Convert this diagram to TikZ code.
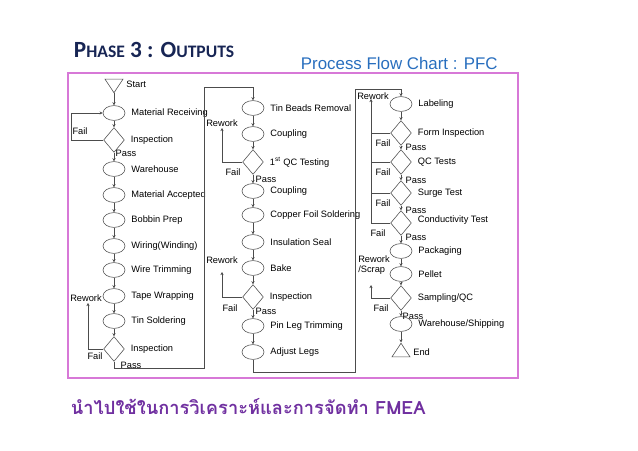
\documentclass[tikz,border=0pt]{standalone}
\usepackage{fontspec}
\setmainfont{Liberation Sans}
\newfontfamily\thaifont[Script=Thai]{Loma}
\newfontfamily\titlefont{Carlito}
\usetikzlibrary{shapes.geometric, arrows.meta, positioning}
\usepackage{xcolor}
\definecolor{navy}{RGB}{23,37,84}
\definecolor{pfcblue}{RGB}{40,110,190}
\definecolor{frame}{RGB}{215,120,215}
\definecolor{thaipurple}{RGB}{112,48,160}

\begin{document}
\begin{tikzpicture}[
    x=0.025cm, y=-0.025cm,
    proc/.style={ellipse, draw=black!70, minimum width=0.55cm, minimum height=0.37cm, inner sep=0pt},
    check/.style={diamond, draw=black!70, minimum width=0.52cm, minimum height=0.62cm, inner sep=0pt},
    term/.style={isosceles triangle, isosceles triangle stretches, draw=black!70, minimum width=0.45cm, minimum height=0.34cm, inner sep=0pt},
    lbl/.style={font=\fontsize{6.6}{7.5}\selectfont, label distance=0.3mm},
    tag/.style={font=\fontsize{6.6}{7.5}\selectfont, inner sep=0pt},
    arr/.style={-{Stealth[length=2.2pt, width=2.2pt]}, black!70, thin},
    line/.style={black!70, thin}
]
\useasboundingbox (0,0) rectangle (638,451);

% titles
\node[anchor=west, navy, font=\titlefont\bfseries\fontsize{16.5}{18}\selectfont] (title) at (69,50)
  {P{\fontsize{12.5}{13}\selectfont HASE} 3 : O{\fontsize{12.5}{13}\selectfont UTPUTS}};
\node[anchor=west, pfcblue, font=\fontsize{12}{13}\selectfont] (pfc) at (296,63) {Process Flow Chart : PFC};
\draw[frame, thick] (68,73) rectangle (518,378);
\node[anchor=west, thaipurple, font=\thaifont\bfseries\fontsize{13}{15}\selectfont] (fmea) at (66,407)
  {นำไปใช้ในการวิเคราะห์และการจัดทำ FMEA};

% left column
\node[term, shape border rotate=270, label={[lbl]right:Start}] (st) at (114,84) {};
\node[proc, label={[lbl]right:Material Receiving}] (mr) at (114,113) {};
\node[check, label={[lbl]right:Inspection}] (in1) at (114,140) {};
\node[proc, label={[lbl]right:Warehouse}] (wh) at (114,169) {};
\node[proc, label={[lbl]right:Material Accepted}] (ma) at (114,195) {};
\node[proc, label={[lbl]right:Bobbin Prep}] (bp) at (114,220) {};
\node[proc, label={[lbl]right:Wiring(Winding)}] (ww) at (114,246) {};
\node[proc, label={[lbl]right:Wire Trimming}] (wt) at (114,270) {};
\node[proc, label={[lbl]right:Tape Wrapping}] (tw) at (114,296) {};
\node[proc, label={[lbl]right:Tin Soldering}] (ts) at (114,321) {};
\node[check, label={[lbl]right:Inspection}] (in2) at (114,349) {};

% middle column
\node[proc, label={[lbl]right:Tin Beads Removal}] (tb) at (253,108) {};
\node[proc, label={[lbl]right:Coupling}] (cp1) at (253,134) {};
\node[check, label={[lbl]right:1\textsuperscript{st} QC Testing}] (qc1) at (253,162) {};
\node[proc, label={[lbl]right:Coupling}] (cp2) at (253,191) {};
\node[proc, label={[lbl]right:Copper Foil Soldering}] (cf) at (253,215) {};
\node[proc, label={[lbl]right:Insulation Seal}] (is) at (253,242) {};
\node[proc, label={[lbl]right:Bake}] (bk) at (253,268) {};
\node[check, label={[lbl]right:Inspection}] (in3) at (253,297) {};
\node[proc, label={[lbl]right:Pin Leg Trimming}] (pl) at (253,326) {};
\node[proc, label={[lbl]right:Adjust Legs}] (al) at (253,352) {};

% right column
\node[proc, label={[lbl]right:Labeling}] (lb) at (401,104) {};
\node[check, label={[lbl]right:Form Inspection}] (fi) at (401,133) {};
\node[check, label={[lbl]right:QC Tests}] (qc) at (401,162) {};
\node[check, label={[lbl]right:Surge Test}] (sg) at (401,193) {};
\node[check, label={[lbl, yshift=2pt]right:Conductivity Test}] (ct) at (401,223) {};
\node[proc, label={[lbl]right:Packaging}] (pk) at (401,251) {};
\node[proc, label={[lbl]right:Pellet}] (pe) at (401,274) {};
\node[check, label={[lbl]right:Sampling/QC}] (sq) at (401,298) {};
\node[proc, label={[lbl]right:Warehouse/Shipping}] (ws) at (401,324) {};
\node[term, shape border rotate=90, label={[lbl]right:End}] (en) at (401,352) {};

% corners and loose ends
\coordinate (c1) at (204,368);
\coordinate (c2) at (204,87);
\coordinate (c3) at (355,372);
\coordinate (c4) at (355,89);
\coordinate (rw1) at (88,303);
\coordinate (rw2) at (222,128);
\coordinate (rw3) at (222,272);
\coordinate (rw4) at (371,99);
\coordinate (rw5) at (371,285);

% main flow
\foreach \a/\b in {st/mr, mr/in1, in1/wh, wh/ma, ma/bp, bp/ww, ww/wt, wt/tw, tw/ts, ts/in2,
                   tb/cp1, cp1/qc1, qc1/cp2, cp2/cf, cf/is, is/bk, bk/in3, in3/pl, pl/al,
                   lb/fi, fi/qc, qc/sg, sg/ct, ct/pk, pk/pe, pe/sq, sq/ws, ws/en}
  \draw[arr] (\a) -- (\b);
\draw[arr] (in2.south) |- (c1) -- (c2) -| (tb.north);
\draw[arr] (al.south) |- (c3) -- (c4) -| (lb.north);

% fail loops
\draw[arr] (in1.west) -- ++(-32,0) |- (mr.west);
\draw[arr] (in2.west) -| (rw1);
\draw[arr] (qc1.west) -| (rw2);
\draw[arr] (in3.west) -| (rw3);
\draw[arr] (ct.west) -| (rw4);
\draw[line] (fi.west) -- (fi.west -| rw4);
\draw[line] (qc.west) -- (qc.west -| rw4);
\draw[line] (sg.west) -- (sg.west -| rw4);
\draw[arr] (sq.west) -| (rw5);

% branch tags
\node[tag] (f1) at (80,131) {Fail};
\node[tag] (p1) at (126,153) {Pass};
\node[tag] (r1) at (86,298) {Rework};
\node[tag] (f2) at (95,356) {Fail};
\node[tag] (p2) at (131,365) {Pass};
\node[tag] (r2) at (222,123) {Rework};
\node[tag] (f3) at (233,172) {Fail};
\node[tag] (p3) at (266,179) {Pass};
\node[tag] (r3) at (222,260) {Rework};
\node[tag] (f4) at (230,308) {Fail};
\node[tag] (p4) at (266,311) {Pass};
\node[tag] (r4) at (373,96) {Rework};
\node[tag] (f5) at (383,143) {Fail};
\node[tag] (p5) at (416,147) {Pass};
\node[tag] (f6) at (383,172) {Fail};
\node[tag] (p6) at (416,180) {Pass};
\node[tag] (f7) at (383,203) {Fail};
\node[tag] (p7) at (416,210) {Pass};
\node[tag] (f8) at (378,233) {Fail};
\node[tag] (p8) at (416,237) {Pass};
\node[tag, align=left] (r5) at (374,265) {Rework\\/Scrap};
\node[tag] (f9) at (381,308) {Fail};
\node[tag] (p9) at (413,316) {Pass};
\end{tikzpicture}
\end{document}
